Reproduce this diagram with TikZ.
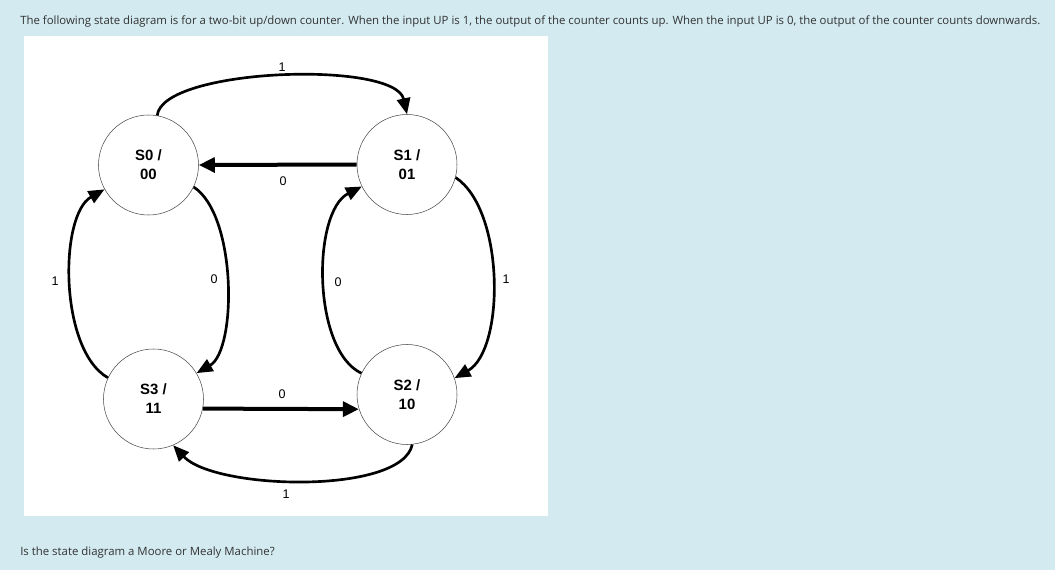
\documentclass[tikz,border=0pt]{standalone}
\usepackage{fontspec}
\setmainfont{Liberation Sans}
\newfontfamily\uifont{Open Sans}
\usetikzlibrary{arrows.meta}
\definecolor{pagebg}{HTML}{D2EAF0}
\definecolor{textgray}{HTML}{333333}

\begin{document}
\begin{tikzpicture}[x=0.75pt,y=-0.75pt,
    state/.style={draw=black!70, fill=white, circle, minimum size=75pt, inner sep=0pt, line width=0.4pt,
        align=center, font=\bfseries\fontsize{11.2}{14.2}\selectfont},
    straight/.style={-{Triangle[length=12pt,width=11pt]}, line width=3pt},
    curved/.style={-{Triangle[length=12pt,width=10pt]}, line width=2pt},
    lbl/.style={font=\fontsize{9.4}{11}\selectfont, inner sep=0pt},
    uitext/.style={anchor=west, inner sep=0pt, text=textgray, font=\uifont\fontsize{8.55}{10}\selectfont}]

% Page and white panel
\fill[pagebg] (0,0) rectangle (1055,570);
\fill[white] (24,36) rectangle (548,516);

% Question text
\node[uitext] (intro) at (20,22) {The following state diagram is for a two-bit up/down counter. When the input UP is 1, the output of the counter counts up. When the input UP is 0, the output of the counter counts downwards.};
\node[uitext] (question) at (20,553) {Is the state diagram a Moore or Mealy Machine?};

% States
\node[state] (s0) at (148.5,165) {S0 /\\00};
\node[state] (s1) at (407,164.5) {S1 /\\01};
\node[state] (s2) at (407,394.5) {S2 /\\10};
\node[state] (s3) at (153.5,399) {S3 /\\11};

% Counting up (UP = 1)
\draw[curved] (s0.80) .. controls (162,68) and (395,60) .. (s1.90);
\draw[curved] (s1.-15) .. controls (505,210) and (505,350) .. (s2.19);
\draw[curved] (s2.-84) .. controls (402,495) and (215,490) .. (s3.-67);
\draw[curved] (s3.155) .. controls (59,350) and (59,215) .. (s0.209);

% Counting down (UP = 0)
\draw[straight] (s1.west) -- (s0.east);
\draw[curved] (s0.-26) .. controls (237,215) and (237,350) .. (s3.31);
\draw[straight] (s3.-11.5) -- (s2.197);
\draw[curved] (s2.155) .. controls (312,350) and (312,212) .. (s1.206);

% Labels for the transitions
\node[lbl] (l01) at (282,67) {1};
\node[lbl] (l12) at (506,279) {1};
\node[lbl] (l23) at (286,494) {1};
\node[lbl] (l30) at (55,281) {1};
\node[lbl] (l10) at (283,181) {0};
\node[lbl] (l03) at (214,279) {0};
\node[lbl] (l32) at (282,394) {0};
\node[lbl] (l21) at (338,282) {0};

\end{tikzpicture}
\end{document}
